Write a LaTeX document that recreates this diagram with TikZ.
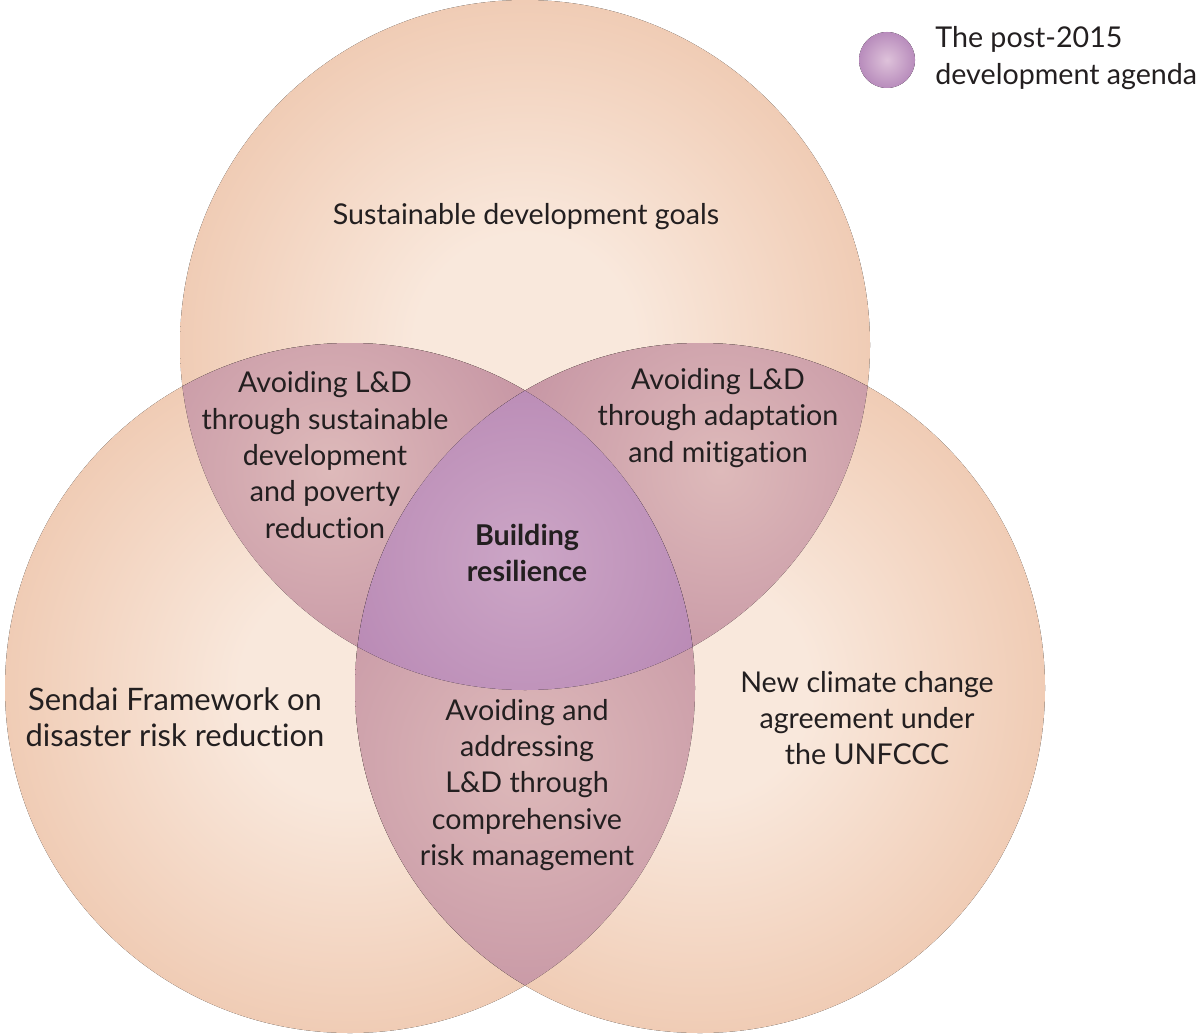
\documentclass[tikz,border=0pt]{standalone}
\usepackage{fontspec}
\setmainfont{Lato}[Ligatures=NoCommon]
\usepackage{tikz}
\usetikzlibrary{positioning}

\definecolor{peachin}{RGB}{249,232,220}
\definecolor{peachout}{RGB}{240,204,181}
\definecolor{lensin}{RGB}{222,186,186}
\definecolor{lensout}{RGB}{196,146,162}
\definecolor{corein}{RGB}{204,166,198}
\definecolor{coreout}{RGB}{184,136,180}
\definecolor{dotin}{RGB}{222,194,218}
\definecolor{dotout}{RGB}{184,140,188}
\definecolor{txt}{RGB}{35,31,32}

\pgfdeclareradialshading{peachshade}{\pgfpoint{0bp}{0bp}}{color(0bp)=(peachin); color(8bp)=(peachin); color(25bp)=(peachout); color(50bp)=(peachout)}
\pgfdeclareradialshading{lensshade}{\pgfpoint{0bp}{0bp}}{color(0bp)=(lensin); color(25bp)=(lensout); color(50bp)=(lensout)}
\pgfdeclareradialshading{coreshade}{\pgfpoint{0bp}{0bp}}{color(0bp)=(corein); color(25bp)=(coreout); color(50bp)=(coreout)}
\pgfdeclareradialshading{dotshade}{\pgfpoint{0bp}{0bp}}{color(0bp)=(dotin); color(25bp)=(dotout); color(50bp)=(dotout)}

\begin{document}
\begin{tikzpicture}[x=0.2mm,y=-0.2mm]
\tikzset{lbl/.style={align=center,text=txt,font=\fontsize{16.3}{20.7}\selectfont,inner sep=0pt}}
\tikzstyle{ring} =[shading=peachshade]

\useasboundingbox (0,0) rectangle (1200,1035);

% the three agendas
\fill[ring] (525,345) circle (345);
\fill[ring] (350,688) circle (345);
\fill[ring] (700,688) circle (345);

% pairwise overlaps
\begin{scope}
\clip (525,345) circle (345);
\clip (350,688) circle (345);
\fill[shading=lensshade] (330,470) circle (240);
\end{scope}
\begin{scope}
\clip (525,345) circle (345);
\clip (700,688) circle (345);
\fill[shading=lensshade] (720,470) circle (240);
\end{scope}
\begin{scope}
\clip (350,688) circle (345);
\clip (700,688) circle (345);
\fill[shading=lensshade] (525,760) circle (290);
\end{scope}

% the core
\begin{scope}
\clip (525,345) circle (345);
\clip (350,688) circle (345);
\clip (700,688) circle (345);
\fill[shading=coreshade] (525,560) circle (210);
\end{scope}

% legend
\fill[shading=dotshade] (887,60) circle (28);

\node[lbl] (sdg) at (526,217) {Sustainable development goals};
\node[lbl,font=\fontsize{17.6}{20.2}\selectfont] (sendai) at (175,717) {Sendai Framework on\\disaster risk reduction};
\node[lbl] (unfccc) at (867,718) {New climate change\\agreement under\\the UNFCCC};
\node[lbl] (poverty) at (325,455) {Avoiding L\&D\\through sustainable\\development\\and poverty\\reduction};
\node[lbl] (adapt) at (718,418) {Avoiding L\&D\\through adaptation\\and mitigation};
\node[lbl] (risk) at (527,785) {Avoiding and\\addressing\\L\&D through\\comprehensive\\risk management};
\node[lbl,font=\bfseries\fontsize{16.3}{20.7}\selectfont] (core) at (527,553) {Building\\resilience};
\node[lbl,align=left,anchor=west] (agenda) at (935,58) {The post-2015\\development agenda};
\end{tikzpicture}
\end{document}
